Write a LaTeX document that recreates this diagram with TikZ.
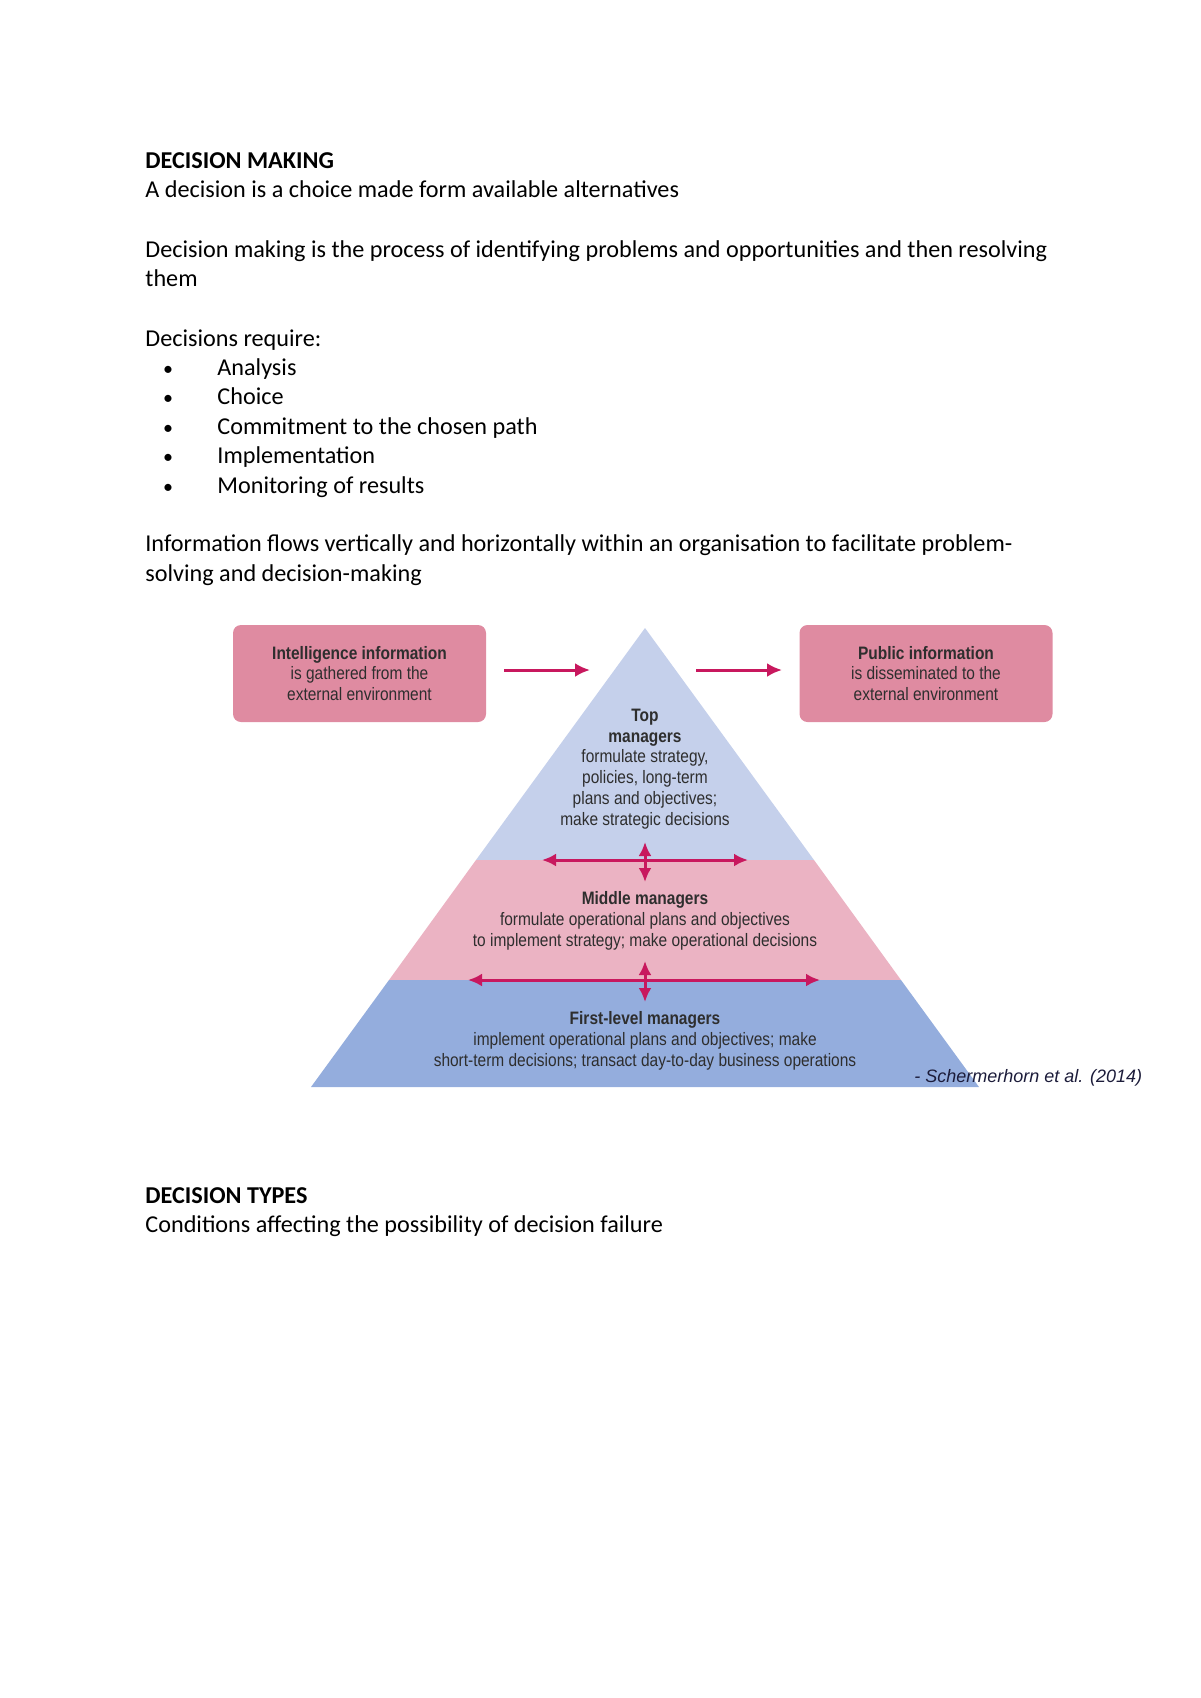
\documentclass[tikz,border=0pt]{standalone}
\usepackage{fontspec}
\setmainfont{Carlito}
\newfontfamily\pyrfont[FakeStretch=0.86]{Liberation Sans}
\newfontfamily\citefont{Liberation Sans}
\usepackage{tikz}
\usetikzlibrary{arrows.meta}
\tikzstyle{line}=[anchor=base west,inner sep=0pt,font=\fontsize{12.1}{14.6}\selectfont]
\tikzstyle{headline}=[line,font=\bfseries\fontsize{12.1}{14.6}\selectfont]
\tikzstyle{dot}=[anchor=base,inner sep=0pt,font=\fontsize{10}{12}\selectfont]
\tikzstyle{infobox}=[rectangle,rounded corners=4pt,fill=boxpink,minimum width=126.5pt,minimum height=48.5pt,align=center,text=pyrtext,font=\pyrfont\fontsize{9}{10.4}\selectfont]
\tikzstyle{tier}=[align=center,inner sep=0pt,text=pyrtext,font=\pyrfont\fontsize{9}{10.4}\selectfont]
\tikzstyle{flowarrow}=[draw=flow,line width=1.5pt,-{Latex[length=7.5pt,width=7pt]}]
\tikzstyle{flowboth}=[draw=flow,line width=1.5pt,{Latex[length=7pt,width=6.5pt]}-{Latex[length=7pt,width=6.5pt]}]
\definecolor{boxpink}{HTML}{DF8BA1}
\definecolor{toptier}{HTML}{C5D0EB}
\definecolor{midtier}{HTML}{EBB3C3}
\definecolor{lowtier}{HTML}{94ADDD}
\definecolor{flow}{HTML}{C8185E}
\definecolor{pyrtext}{HTML}{2E2E2E}
\definecolor{citetext}{HTML}{1C1C3A}

\begin{document}
\begin{tikzpicture}[x=0.5pt,y=-0.5pt]
	\useasboundingbox (0,0) rectangle (1200,1698);
	% page text
	\node[headline] (title) at (145,168) {DECISION MAKING};
	\node[line] (def) at (145,197) {A decision is a choice made form available alternatives};
	\node[line] (proc1) at (145,257) {Decision making is the process of identifying problems and opportunities and then resolving};
	\node[line] (proc2) at (145,286) {them};
	\node[line] (req) at (145,346) {Decisions require:};
	\foreach \y/\name/\txt in {375/an/Analysis,404.5/ch/Choice,434/co/Commitment to the chosen path,463.5/im/Implementation,493/mo/Monitoring of results}{
		\node[dot] (b\name) at (168,\y) {\textbullet};
		\node[line] (\name) at (217,\y) {\txt};
	}
	\node[line] (flow1) at (145,551) {Information flows vertically and horizontally within an organisation to facilitate problem-};
	\node[line] (flow2) at (145,581) {solving and decision-making};
	\node[headline] (types) at (145,1203) {DECISION TYPES};
	\node[line] (cond) at (145,1232) {Conditions affecting the possibility of decision failure};
	% pyramid
	\fill[toptier] (645,628) -- (814,860) -- (476,860) -- cycle;
	\fill[midtier] (476,860) -- (814,860) -- (901,980) -- (389,980) -- cycle;
	\fill[lowtier] (389,980) -- (901,980) -- (979,1087) -- (311,1087) -- cycle;
	\node[infobox] (intel) at (359.5,673.5) {\textbf{Intelligence information}\\is gathered from the\\external environment};
	\node[infobox] (public) at (926,673.5) {\textbf{Public information}\\is disseminated to the\\external environment};
	\node[tier] (top) at (645,769) {\textbf{Top}\\\textbf{managers}\\formulate strategy,\\policies, long-term\\plans and objectives;\\make strategic decisions};
	\node[tier] (middle) at (645,921) {\textbf{Middle managers}\\formulate operational plans and objectives\\to implement strategy; make operational decisions};
	\node[tier] (first) at (645,1041) {\textbf{First-level managers}\\implement operational plans and objectives; make\\short-term decisions; transact day-to-day business operations};
	\node[anchor=west,inner sep=0pt,text=citetext,font=\citefont\itshape\fontsize{9}{11}\selectfont] (cite) at (914,1078) {- Schermerhorn et al. (2014)};
	% flows
	\coordinate (inA) at (504,670);
	\coordinate (inB) at (590,670);
	\coordinate (outA) at (696,670);
	\coordinate (outB) at (782,670);
	\coordinate (hTopL) at (542,860);
	\coordinate (hTopR) at (748,860);
	\coordinate (vTopT) at (645,842);
	\coordinate (vTopB) at (645,882);
	\coordinate (hLowL) at (468,980);
	\coordinate (hLowR) at (820,980);
	\coordinate (vLowT) at (645,961);
	\coordinate (vLowB) at (645,1002);
	\draw[flowarrow] (inA) -- (inB);
	\draw[flowarrow] (outA) -- (outB);
	\draw[flowboth] (hTopL) -- (hTopR);
	\draw[flowboth] (vTopT) -- (vTopB);
	\draw[flowboth] (hLowL) -- (hLowR);
	\draw[flowboth] (vLowT) -- (vLowB);
\end{tikzpicture}
\end{document}
